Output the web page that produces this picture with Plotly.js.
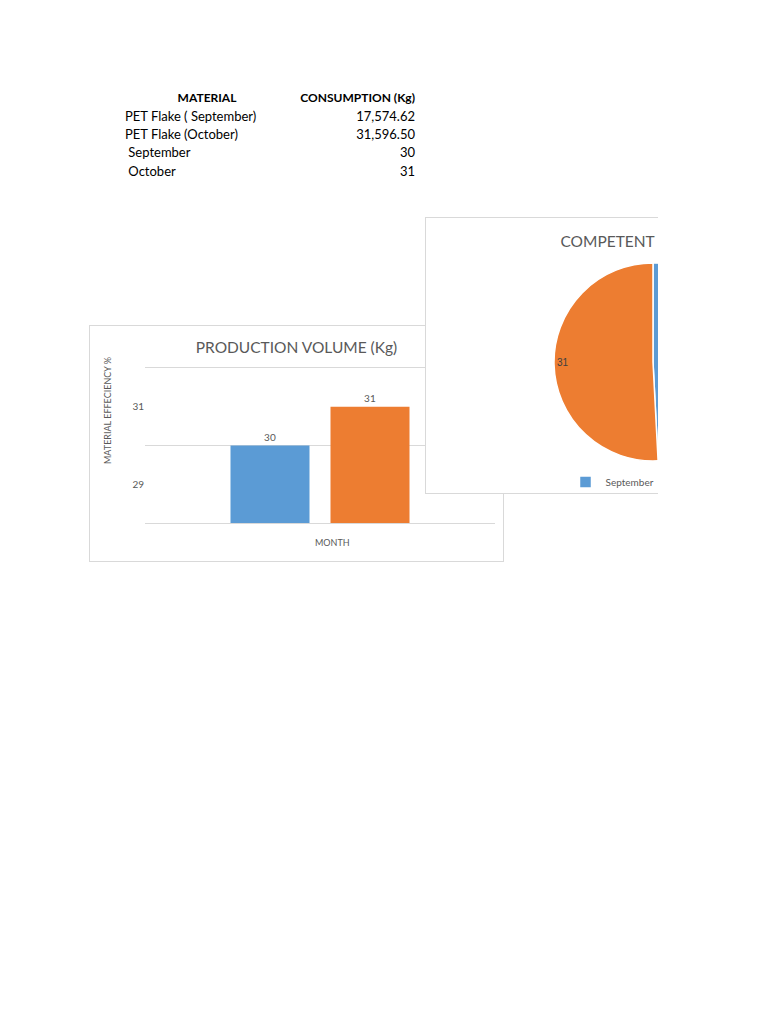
<!DOCTYPE html>
<html><head><meta charset="utf-8">
<script src="https://cdn.plot.ly/plotly-3.0.1.min.js"></script>
<style>
html,body{margin:0;padding:0;background:#fff;width:768px;height:1024px;overflow:hidden;position:relative;}
#table{position:absolute;left:117px;top:84.5px;width:306px;height:110px;}
#bar{position:absolute;left:89px;top:325px;width:413px;height:235px;border:1px solid #d9d9d9;background:#fff;}
#pieclip{position:absolute;left:425px;top:217px;width:233px;height:277px;overflow:hidden;}
#pie{position:absolute;left:0;top:0;width:458px;height:275px;border:1px solid #d9d9d9;background:#fff;}
</style></head>
<body>
<div id="table"></div>
<div id="bar"></div>
<div id="pieclip"><div id="pie"></div></div>
<script>
// ---- data ----
var tableHeaders = ['MATERIAL', 'CONSUMPTION (Kg)'];
var materials = ['PET Flake ( September)', 'PET Flake (October)', ' September', ' October'];
var consumption = [17574.62, 31596.50, 30, 31];
var months = ['September', 'October'];
var efficiency = [30, 31];
var barTitle = 'PRODUCTION VOLUME (Kg)';
var barYTitle = 'MATERIAL EFFECIENCY %';
var barXTitle = 'MONTH';
var yTickVals = [29, 31];
var yGridVals = [28, 30, 32];
var pieTitle = 'COMPETENT GRADES (Kg)';

var colors = ['#5B9BD5', '#ED7D31'];
var FONT = 'Lato, "Open Sans", sans-serif';
var GREY = '#595959';

// ---- table ----
function fmt(v) {
  return v >= 1000 ? v.toLocaleString('en-US', {minimumFractionDigits: 2, maximumFractionDigits: 2}) : String(v);
}
var clear = 'rgba(0,0,0,0)';
var noLine = {color: clear, width: 0};
Plotly.newPlot('table', [{
  type: 'table',
  columnwidth: [180, 126],
  header: {
    values: tableHeaders.map(function (h) { return h.replace(/ /g, '\u00a0'); }),
    align: ['center', 'right'],
    height: 18,
    font: {family: FONT, size: 12, color: '#000', weight: 'bold'},
    fill: {color: clear},
    line: noLine
  },
  cells: {
    values: [materials.map(function (m) { return m.replace(/^ /, '\u00a0'); }), consumption.map(fmt)],
    align: ['left', 'right'],
    height: 18.3,
    font: {family: FONT, size: 13, color: '#000'},
    fill: {color: clear},
    line: noLine
  }
}], {
  width: 306, height: 110,
  margin: {l: 0, r: 0, t: 0, b: 0},
  paper_bgcolor: '#fff'
}, {staticPlot: true, displayModeBar: false});

// ---- bar chart ----
var barTraces = months.map(function (m, i) {
  return {
    type: 'bar',
    name: m,
    x: [barXTitle],
    y: [efficiency[i]],
    text: [String(efficiency[i])],
    textposition: 'outside',
    textfont: {family: FONT, size: 10, color: GREY},
    cliponaxis: false,
    marker: {color: colors[i]},
    showlegend: false
  };
});
Plotly.newPlot('bar', barTraces, {
  width: 413, height: 235,
  margin: {l: 55, r: 8, t: 42, b: 38},
  paper_bgcolor: '#fff', plot_bgcolor: '#fff',
  font: {family: FONT, color: GREY},
  title: {text: barTitle, font: {family: FONT, size: 15.5, color: GREY}, x: 0.5, xanchor: 'center', y: 0.907, yanchor: 'middle', yref: 'container'},
  barmode: 'group',
  bargap: 0.4286,
  bargroupgap: 0.21,
  xaxis: {showticklabels: false, showgrid: false, zeroline: false, showline: true, mirror: true, linecolor: '#d9d9d9', linewidth: 1, ticks: ''},
  yaxis: {
    range: [28, 32], tickmode: 'array', tickvals: yTickVals, ticktext: yTickVals.map(String),
    showgrid: false, zeroline: false, showline: false, ticks: '',
    tickfont: {family: FONT, size: 10, color: GREY},
    minor: {tickmode: 'array', tickvals: yGridVals, showgrid: true, gridcolor: '#d9d9d9', gridwidth: 1, ticks: ''}
  },
  annotations: [
    {text: barYTitle, xref: 'paper', yref: 'paper', x: -0.1086, y: 0.729, textangle: -90, showarrow: false,
     font: {family: FONT, size: 9, color: GREY}, xanchor: 'center', yanchor: 'middle'},
    {text: barXTitle, xref: 'paper', yref: 'paper', x: 0.537, y: -0.129, showarrow: false,
     font: {family: FONT, size: 9, color: GREY}, xanchor: 'center', yanchor: 'middle'}
  ]
}, {staticPlot: true, displayModeBar: false});

// ---- pie chart ----
Plotly.newPlot('pie', [{
  type: 'pie',
  labels: months,
  values: efficiency,
  sort: false,
  direction: 'clockwise',
  rotation: 0,
  marker: {colors: colors, line: {color: '#fff', width: 1.5}},
  textinfo: 'none'
}], {
  width: 458, height: 275,
  margin: {l: 0, r: 4, t: 45, b: 32, autoexpand: false},
  paper_bgcolor: '#fff',
  title: {text: pieTitle, font: {family: FONT, size: 15.5, color: GREY}, x: 0.5, xanchor: 'center', y: 0.913, yanchor: 'middle', yref: 'container'},
  showlegend: true,
  legend: {orientation: 'h', x: 0.5, xanchor: 'center', y: -0.106, yanchor: 'middle',
           font: {family: FONT, size: 10, color: GREY}, itemwidth: 30},
  // data labels at the slices' outer ends (Excel "inside end" style)
  annotations: months.map(function (m, i) {
    return {text: String(efficiency[i]), xref: 'paper', yref: 'paper',
            x: i === 1 ? 0.3007 : 0.6993, y: 0.495, showarrow: false,
            xanchor: 'center', yanchor: 'middle',
            font: {family: '"Liberation Sans", Arial, sans-serif', size: 10, color: '#404040'}};
  })
}, {staticPlot: true, displayModeBar: false});
</script>
</body></html>
